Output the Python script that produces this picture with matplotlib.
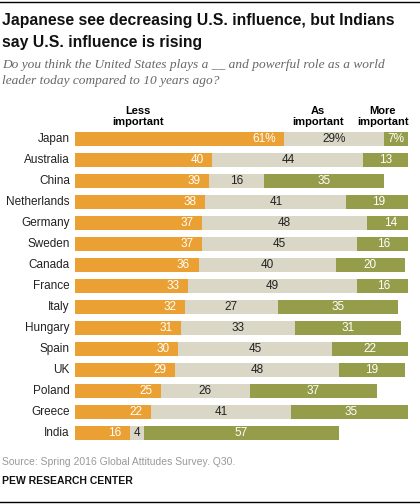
import matplotlib
matplotlib.use("Agg")
import matplotlib.pyplot as plt

countries = ["Japan", "Australia", "China", "Netherlands", "Germany", "Sweden",
             "Canada", "France", "Italy", "Hungary", "Spain", "UK", "Poland",
             "Greece", "India"]
less_imp = [61, 40, 39, 38, 37, 37, 36, 33, 32, 31, 30, 29, 25, 22, 16]
as_imp = [29, 44, 16, 41, 48, 45, 40, 49, 27, 33, 45, 48, 26, 41, 4]
more_imp = [7, 13, 35, 19, 14, 16, 20, 16, 35, 31, 22, 19, 37, 35, 57]

ORANGE = "#EAA032"
GREY = "#DAD7C7"
GREEN = "#959D4A"

W, H = 420, 504
fig = plt.figure(figsize=(W / 100, H / 100), dpi=100)
plt.rcParams['font.family'] = ['Liberation Sans', 'DejaVu Sans']

def px(x, y):
    return x / W, 1 - y / H

# axes: x 0..97 maps to 75..408 px, rows centered at 139 + 21*i
ax = fig.add_axes([75 / W, 1 - 443.5 / H, 333 / W, 315 / H])
ax.set_xlim(0, 97)
ax.set_ylim(len(countries) - 0.5, -0.5)
ax.axis("off")

ypos = list(range(len(countries)))
ax.barh(ypos, less_imp, height=0.67, color=ORANGE)
ax.barh(ypos, as_imp, left=less_imp, height=0.67, color=GREY)
lefts = [a + b for a, b in zip(less_imp, as_imp)]
ax.barh(ypos, more_imp, left=lefts, height=0.67, color=GREEN)

for i, c in enumerate(countries):
    sfx = "%" if i == 0 else ""
    ax.text(less_imp[i] - 2.5, i, f"{less_imp[i]}{sfx}", ha="right", va="center",
            color="white", fontsize=8.5)
    ax.text(less_imp[i] + as_imp[i] / 2, i, f"{as_imp[i]}{sfx}", ha="center",
            va="center", color="#222222", fontsize=8.5)
    ax.text(lefts[i] + more_imp[i] / 2, i, f"{more_imp[i]}{sfx}", ha="center",
            va="center", color="white", fontsize=8.5)
    ax.text(-1.5, i, c, ha="right", va="center", color="#222222", fontsize=8.5)

# column headers
for x, lab in [(138, "Less\nimportant"), (318, "As\nimportant"), (383, "More\nimportant")]:
    fig.text(*px(x, 116.5), lab, ha="center", va="center", fontsize=8,
             fontweight="bold", linespacing=1.2)

# title and subtitle
fig.text(*px(2, 21), "Japanese see decreasing U.S. influence, but Indians",
         ha="left", va="center", fontsize=11.3, fontweight="bold", color="#111111")
fig.text(*px(2, 42), "say U.S. influence is rising",
         ha="left", va="center", fontsize=11.3, fontweight="bold", color="#111111")
fig.text(*px(2, 65), "Do you think the United States plays a __ and powerful role as a world",
         ha="left", va="center", fontsize=9.6, style="italic", color="#666666",
         family=["Liberation Serif", "DejaVu Serif"])
fig.text(*px(2, 81), "leader today compared to 10 years ago?",
         ha="left", va="center", fontsize=9.6, style="italic", color="#666666",
         family=["Liberation Serif", "DejaVu Serif"])

fig.text(*px(2, 462), "Source: Spring 2016 Global Attitudes Survey. Q30.",
         ha="left", va="center", fontsize=7.5, color="#999999")
fig.text(*px(2, 481), "PEW RESEARCH CENTER", ha="left", va="center",
         fontsize=7.5, fontweight="bold", color="#111111")

# top and bottom rules
fig.add_artist(plt.Line2D([0, 1], [1 - 1.5 / H, 1 - 1.5 / H], color="black", lw=1))
fig.add_artist(plt.Line2D([0, 1], [1 - 502 / H, 1 - 502 / H], color="black", lw=1))

fig.savefig("out.png", dpi=100)
